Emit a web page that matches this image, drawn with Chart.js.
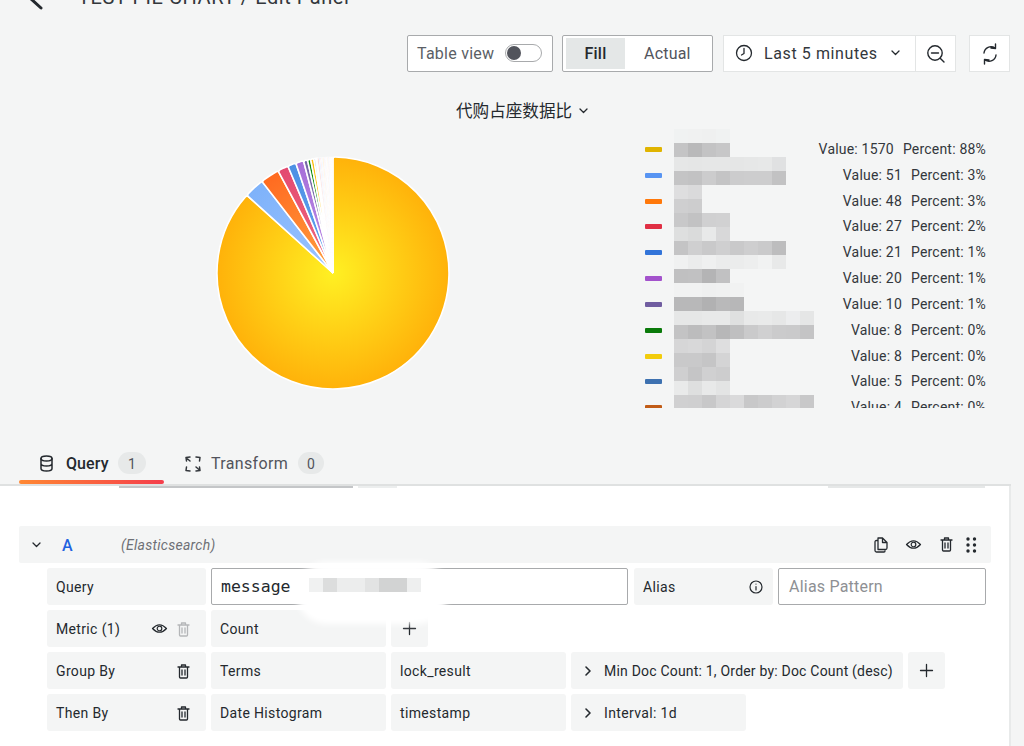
<!DOCTYPE html>
<html lang="zh">
<head>
<meta charset="utf-8">
<title>代购占座数据比</title>
<script src="https://cdn.jsdelivr.net/npm/chart.js@4/dist/chart.umd.min.js"></script>
<style>
    html, body { margin: 0; padding: 0; width: 1024px; height: 746px; overflow: hidden; background: #f4f5f5; }
    body { position: relative; font-family: Roboto, sans-serif; color: #24292e; font-size: 14px; }
    .abs { position: absolute; box-sizing: border-box; white-space: nowrap; }
    .box { display: flex; align-items: center; }
    .btn { background: #fff; border: 1px solid #e3e5e5; }
    .outlined { background: #fff; border: 1px solid #a8aaac; border-radius: 2px; }
    .cell { background: #f4f5f5; border-radius: 3px; padding-left: 9px; letter-spacing: 0.35px; }
    .badge { background: #e7e9e9; border-radius: 12px; color: #52545c; text-align: center; }
    svg { position: absolute; overflow: visible; fill: none; stroke: #24292e; stroke-width: 1.3; stroke-linecap: round; stroke-linejoin: round; }
    #legend { left: 640px; top: 136px; width: 346px; height: 272px; overflow: hidden; }
    .row { position: absolute; left: 0; right: 0; height: 26px; display: flex; align-items: center; justify-content: flex-end; letter-spacing: 0.2px; color: #33373c; }
    .row .swatch { position: absolute; left: 5px; top: 11px; width: 17px; height: 5px; border-radius: 1px; }
    .row .pct { margin-left: 9px; }
    #chart-wrap { left: 213px; top: 153px; width: 240px; height: 240px; }
</style>
</head>
<body>
<div id="chrome"></div>
<div id="mosaic"></div>
<div class="abs" id="chart-wrap"><canvas id="pie-canvas" width="240" height="240"></canvas></div>
<div class="abs" id="legend"></div>

<script>
// Chart values
const chartTitle = "代购占座数据比";
const shownValues = [1570, 51, 48, 27, 21, 20, 10, 8, 8, 5, 4];
const shownPercents = [88, 3, 3, 2, 1, 1, 1, 0, 0, 0, 0];
const shownColors = ["#e0b400", "#5794f2", "#ff780a", "#e02f44", "#3274d9", "#a352cc", "#705da0", "#0a7a0a", "#f2cc0c", "#3d71b0", "#c15c17"];
// legend is cut off in the picture, the rest of the pie is only thin slices
const tailValues = [4, 3, 3, 3, 3, 2, 2, 2, 2, 2, 2, 2, 2, 1, 1, 1, 1, 1, 1, 1];
const tailColors = ["#f7c4c4", "#c4dcff", "#ffd2d2", "#dcebff", "#ffe0b0"];

// bright middle and outer edge of each slice
const sliceInner = ["#fff023", "#9cc4ff", "#ffa040", "#f06a80", "#64a4f0", "#bc8ce8", "#8f80bb", "#2a9a2a", "#ffd83a", "#78a8dc", "#ffb58a"];
const sliceOuter = ["#ffb20a", "#7eb2fa", "#ff6a20", "#e34a70", "#4c90e4", "#a66fd8", "#7567a8", "#0c8a0c", "#fbbc10", "#8ab8e4", "#f8a880"];

const allValues = shownValues.concat(tailValues);
const pieRadius = 116;

function sliceFill(ctx) {
    const i = ctx.dataIndex;
    const area = ctx.chart.chartArea;
    if (i >= sliceInner.length) return tailColors[(i - sliceInner.length) % tailColors.length];
    if (!area) return sliceOuter[i];
    // the arc has no coordinates yet when options resolve, so take the middle of the area
    const cx = (area.left + area.right) / 2;
    const cy = (area.top + area.bottom) / 2;
    const g = ctx.chart.ctx.createRadialGradient(cx, cy, 0, cx, cy, pieRadius);
    g.addColorStop(0, sliceInner[i]);
    g.addColorStop(1, sliceOuter[i]);
    return g;
}

new Chart(document.getElementById("pie-canvas"), {
    type: "pie",
    data: {
        labels: allValues.map((v, i) => "series " + (i + 1)),
        datasets: [{
            data: allValues,
            backgroundColor: sliceFill,
            borderColor: "#ffffff",
            borderWidth: ctx => ctx.dataIndex < shownValues.length ? 1.6 : 0.8,
            borderRadius: 2
        }]
    },
    options: {
        responsive: false,
        animation: false,
        radius: pieRadius,
        plugins: { legend: { display: false }, tooltip: { enabled: false } }
    }
});

// Legend rows
const legend = document.getElementById("legend");
shownValues.forEach((v, i) => {
    const row = document.createElement("div");
    row.className = "row";
    row.style.top = (i * 25.82) + "px";
    row.innerHTML = `<span class="swatch" style="background:${shownColors[i]}"></span><span>Value: ${v}</span><span class="pct">Percent: ${shownPercents[i]}%</span>`;
    legend.appendChild(row);
});

// Blurred out series names, one line per 14px strip
const mosaicRows = [
    [129, ["f0f2f2", "f0f1f1", "eff0f0", "f0f2f2"]],
    [143, ["c4c4c5", "b9b9ba", "c3c3c4", "c7c7c8"]],
    [157, ["e6e7e7", "e5e6e6", "e6e7e7", "e6e7e7", "e5e6e6", "e6e7e7", "e7e8e8", "e0e1e2"]],
    [171, ["c4c4c5", "c2c2c3", "cccccd", "c4c4c5", "cccccd", "cdcdce", "cdcdce", "c2c2c3"]],
    [185, ["dededf", "dadadb"]],
    [199, ["cfcfd0", "cdcdce"]],
    [213, ["c8c8c9", "c2c2c3", "d0d0d1", "d1d1d2"]],
    [227, ["dedfdf", "dadbdb", "e8e9e9", "d8d8d9"]],
    [241, ["c4c4c5", "cfcfd0", "c9c9ca", "cfcfd0", "c9c9ca", "cececf", "cacacb", "bdbdbe"]],
    [255, ["f0f1f1", "ebecec", "eff0f0", "ebecec", "ebecec", "edeeee", "f1f2f2", "e8e9e9"]],
    [269, ["c0c0c1", "c1c1c2", "b4b4b5", "c1c1c2"]],
    [283, ["f1f2f2", "f1f2f2", "eff0f0", "f0f1f1", "f1f2f2"]],
    [297, ["b8b8b9", "b8b8b9", "b1b1b2", "b9b9ba", "b7b7b8"]],
    [311, ["e6e7e7", "e6e7e7", "e8e9e9", "e8e9e9", "dfe0e0", "e8e9e9", "e9eaea", "e6e7e7", "ecedee", "e5e6e6"]],
    [325, ["c3c3c4", "bcbcbd", "c2c2c3", "b7b7b8", "bfbfc0", "cacacb", "d0d0d1", "cbcbcc", "cacacb", "c4c4c5"]],
    [339, ["d6d6d7", "d8d8d9", "d4d4d5", "dededf"]],
    [353, ["c9c9ca", "c9c9ca", "c5c5c6", "d4d4d5"]],
    [367, ["cfcfd0", "c5c5c6", "d0d0d1", "cdcdce"]],
    [381, ["e9eaea", "dedfdf", "e8e9e9", "e3e4e4"]],
    [395, ["d0d0d1", "cfcfd0", "c8c8c9", "d5d5d6", "dadadb", "c8c8c9", "cccccd", "d2d2d3", "d6d6d7", "c8c8c9"]]
];
const mosaic = document.getElementById("mosaic");
mosaicRows.forEach(([y, shades]) => {
    shades.forEach((s, i) => {
        const d = document.createElement("div");
        d.className = "abs";
        d.style.cssText = `left:${674 + i * 14}px;top:${y}px;width:14px;height:${y === 395 ? 13 : 14}px;background:#${s}`;
        mosaic.appendChild(d);
    });
});

// Everything around the chart is plain page furniture
const chevronDown = (x, y, s) => `<svg style="left:${x}px;top:${y}px" width="10" height="6"><path d="M0 0 L3.5 3.5 L7 0" stroke="${s || "#24292e"}"/></svg>`;
const chevronRight = (x, y) => `<svg style="left:${x}px;top:${y}px" width="6" height="10"><path d="M0 0 L4 4 L0 8" stroke-width="1.6"/></svg>`;
const trash = (x, y, c) => `<svg style="left:${x}px;top:${y}px;stroke:${c || "#24292e"}" width="14" height="16"><path d="M1 3 H12 M4.5 3 V1 H8.5 V3 M2.5 3 V13 Q2.5 14 3.5 14 H9.5 Q10.5 14 10.5 13 V3 M5 6 V11 M8 6 V11"/></svg>`;
const eye = (x, y) => `<svg style="left:${x}px;top:${y}px;stroke-width:1.2" width="16" height="12"><path d="M0.5 5.5 Q7.5 -2 14.5 5.5 Q7.5 13 0.5 5.5 Z"/><circle cx="7.5" cy="5.5" r="2.3"/></svg>`;
const plus = (x, y) => `<svg style="left:${x}px;top:${y}px" width="14" height="14"><path d="M0.5 6.5 H12.5 M6.5 0.5 V12.5"/></svg>`;
const cell = (x, y, w, text, extra) => `<div class="abs box cell" style="left:${x}px;top:${y}px;width:${w}px;height:37px;${extra || ""}">${text}</div>`;

document.getElementById("chrome").innerHTML = `
    <svg style="left:0;top:0;stroke-width:3" width="60" height="10"><path d="M41 -8 L30 -2 L41 8"/></svg>
    <div class="abs" style="left:78px;top:-15px;font-size:20px;letter-spacing:0.55px;color:#33373c">TEST PIE CHART / Edit Panel</div>

    <div class="abs outlined" style="left:407px;top:35px;width:146px;height:37px"></div>
    <div class="abs" style="left:417px;top:44px;font-size:16px;letter-spacing:0.25px;color:#5b5f66">Table view</div>
    <div class="abs" style="left:505px;top:44px;width:37px;height:18px;border:1px solid #a8aaac;border-radius:9px;background:#fff"></div>
    <div class="abs" style="left:507px;top:46px;width:14px;height:14px;border-radius:7px;background:#52545c"></div>

    <div class="abs outlined" style="left:562px;top:35px;width:151px;height:37px"></div>
    <div class="abs box" style="left:566px;top:38px;width:59px;height:31px;background:#e4e7e7;justify-content:center;font-size:16px;font-weight:500;letter-spacing:0.3px">Fill</div>
    <div class="abs" style="left:644px;top:44px;font-size:16px;letter-spacing:0.2px;color:#52545c">Actual</div>

    <div class="abs btn" style="left:723px;top:35px;width:193px;height:37px"></div>
    <svg style="left:736px;top:45px;stroke-width:1.3" width="16" height="16"><circle cx="8" cy="8" r="7.5"/><path d="M8 3.5 V8.5 L5.5 10"/></svg>
    <div class="abs" style="left:764px;top:44px;font-size:16px;letter-spacing:0.6px;color:#33373c">Last 5 minutes</div>
    ${chevronDown(892, 51)}
    <div class="abs btn" style="left:915px;top:35px;width:41px;height:37px"></div>
    <svg style="left:927px;top:45px;stroke-width:1.4" width="18" height="18"><circle cx="8" cy="8" r="7.2"/><path d="M4.5 8 H11.5 M13.2 13.2 L17 17"/></svg>
    <div class="abs btn" style="left:969px;top:35px;width:41px;height:37px"></div>
    <svg style="left:981px;top:45px;stroke-width:1.4" width="18" height="18"><path d="M3 8 A7 7 0 0 1 14 3 M15 10 A7 7 0 0 1 4 15 M10 3 L14.5 3.5 L14.5 -1 M8 15 L3.5 14.5 L3.5 19"/></svg>

    <div class="abs" style="left:456px;top:100px;font-family:'Noto Sans CJK SC';font-size:16.6px;line-height:20px;color:#24292e">${chartTitle}</div>
    ${chevronDown(580, 109)}

    <svg style="left:40px;top:456px;stroke-width:1.5" width="14" height="16"><ellipse cx="6.5" cy="2.5" rx="5.5" ry="2.5"/><path d="M1 2.5 V12.5 Q1 15 6.5 15 Q12 15 12 12.5 V2.5 M1 7.5 Q1 10 6.5 10 Q12 10 12 7.5"/></svg>
    <div class="abs" style="left:66px;top:454px;font-size:16px;font-weight:500;letter-spacing:0.1px">Query</div>
    <div class="abs badge" style="left:118px;top:452px;width:28px;height:22px;line-height:24px">1</div>
    <svg style="left:185px;top:456px;stroke-width:1.5;stroke:#33373c" width="16" height="16"><path d="M5 1 L1 1.5 L1.5 5 M11 1 L15 1.5 L14.5 5 M5 15 L1 14.5 L1.5 11 M11 15 L15 14.5 L14.5 11 M1.5 2 L5 5 M14.5 14 L11 11"/></svg>
    <div class="abs" style="left:211px;top:454px;font-size:16px;letter-spacing:0.35px;color:#52545c">Transform</div>
    <div class="abs badge" style="left:298px;top:452px;width:26px;height:22px;line-height:24px">0</div>

    <div class="abs" style="left:0;top:486px;width:1011px;height:260px;background:#fff;border-right:2px solid #e8eaea"></div>
    <div class="abs" style="left:0;top:484px;width:1011px;height:2px;background:#dfe1e1"></div>
    <div class="abs" style="left:119px;top:486px;width:234px;height:2px;background:#c4c6c8"></div>
    <div class="abs" style="left:358px;top:486px;width:39px;height:2px;background:#eceeee"></div>
    <div class="abs" style="left:828px;top:486px;width:157px;height:2px;background:#e6e8e8"></div>
    <div class="abs" style="left:19px;top:480px;width:145px;height:4px;border-radius:2px;background:linear-gradient(90deg,#ff8833,#f53e4c)"></div>

    <div class="abs" style="left:19px;top:526px;width:972px;height:37px;background:#f4f5f5;border-radius:2px"></div>
    ${chevronDown(33, 543)}
    <div class="abs" style="left:62px;top:536px;font-size:16px;font-weight:500;color:#1f62e0">A</div>
    <div class="abs" style="left:121px;top:537px;font-size:14px;font-style:italic;letter-spacing:0.28px;color:#6e7075">(Elasticsearch)</div>
    <svg style="left:874px;top:537px" width="14" height="16"><path d="M4 1 H8.5 L13 5.5 V11 Q13 12.5 11.5 12.5 H4 Z M8.5 1 V5.5 H13 M4 3.5 H2.5 Q1 3.5 1 5 V13.5 Q1 15 2.5 15 H10 Q11 15 11 14"/></svg>
    ${eye(906, 539)}
    ${trash(940, 537)}
    <svg style="left:966px;top:537px;fill:#24292e;stroke:none" width="10" height="16"><circle cx="2" cy="2" r="1.7"/><circle cx="8.5" cy="2" r="1.7"/><circle cx="2" cy="8" r="1.7"/><circle cx="8.5" cy="8" r="1.7"/><circle cx="2" cy="14" r="1.7"/><circle cx="8.5" cy="14" r="1.7"/></svg>

    ${cell(47, 568, 159, "Query")}
    <div class="abs outlined box" style="left:211px;top:568px;width:417px;height:37px;padding-left:9px;font-family:'DejaVu Sans Mono';font-size:16.5px">message</div>
    ${cell(634, 568, 139, "Alias")}
    <svg style="left:749px;top:580px;stroke-width:1.2" width="14" height="14"><circle cx="7" cy="7" r="6"/><path d="M7 6.5 V10 M7 4 V4.1"/></svg>
    <div class="abs outlined box" style="left:778px;top:568px;width:208px;height:37px;padding-left:10px;font-size:16px;letter-spacing:0.22px;color:#8e9094">Alias Pattern</div>

    ${cell(47, 610, 159, "Metric (1)")}
    ${eye(152, 623)}
    ${trash(177, 622, "#b4b6b8")}
    ${cell(211, 610, 175, "Count")}
    ${cell(391, 610, 37, "")}
    ${plus(403, 622)}

    ${cell(47, 652, 159, "Group By")}
    ${trash(177, 664)}
    ${cell(211, 652, 175, "Terms")}
    ${cell(391, 652, 175, "lock_result")}
    ${cell(571, 652, 332, `<span style="margin-left:24px;letter-spacing:0.2px">Min Doc Count: 1, Order by: Doc Count (desc)</span>`)}
    ${chevronRight(586, 667)}
    ${cell(908, 652, 37, "")}
    ${plus(920, 664)}

    ${cell(47, 694, 159, "Then By")}
    ${trash(177, 706)}
    ${cell(211, 694, 175, "Date Histogram")}
    ${cell(391, 694, 175, "timestamp")}
    ${cell(571, 694, 175, `<span style="margin-left:24px">Interval: 1d</span>`)}
    ${chevronRight(586, 709)}

    <div class="abs" style="left:296px;top:562px;width:152px;height:62px;background:#fff;border-radius:40px;filter:blur(3px)"></div>
    <div class="abs" style="left:309px;top:578px;width:14px;height:14px;background:#f0f1f1"></div>
    <div class="abs" style="left:323px;top:578px;width:14px;height:14px;background:#dcdddd"></div>
    <div class="abs" style="left:337px;top:578px;width:28px;height:14px;background:#eceded"></div>
    <div class="abs" style="left:365px;top:578px;width:14px;height:14px;background:#e2e3e3"></div>
    <div class="abs" style="left:379px;top:578px;width:28px;height:14px;background:#d2d3d3"></div>
    <div class="abs" style="left:407px;top:578px;width:14px;height:14px;background:#eeefef"></div>
`;
</script>
</body>
</html>
